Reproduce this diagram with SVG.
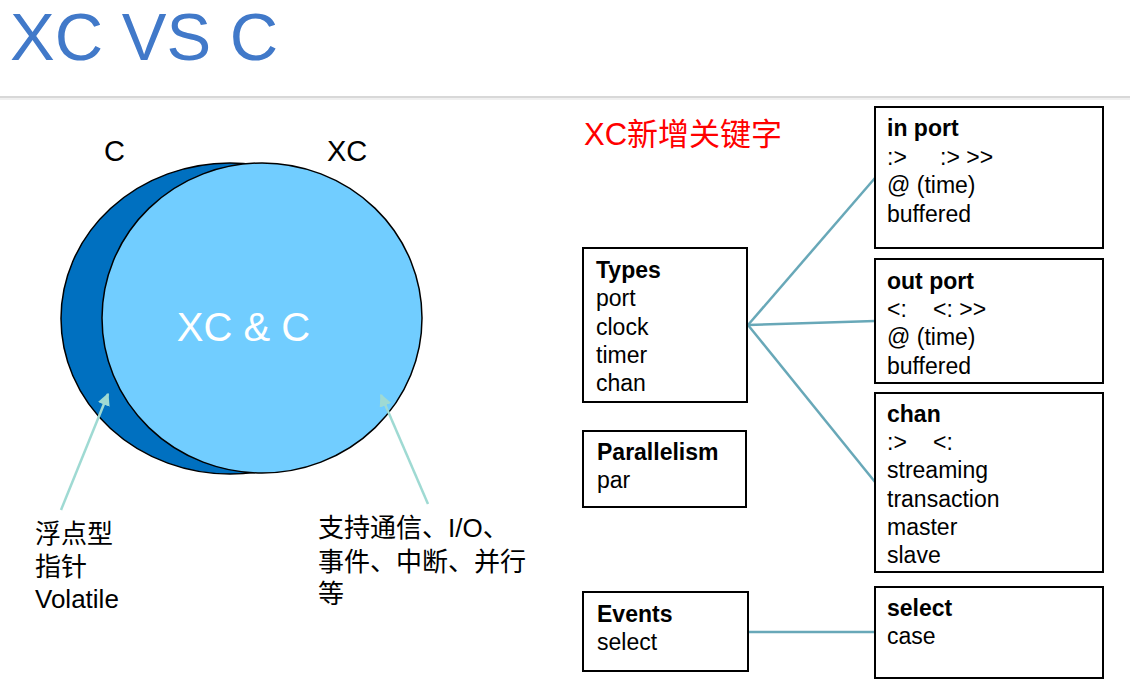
<svg xmlns="http://www.w3.org/2000/svg" width="1130" height="685" viewBox="0 0 1130 685">
<style>
  text { font-family: "Liberation Sans", Arial, "Noto Sans CJK SC", sans-serif; }
  .box { fill: #ffffff; stroke: #000000; stroke-width: 2; }
  .t { font-size: 23px; fill: #000000; }
  .b { font-weight: bold; }
  .cjk { font-family: "Liberation Sans", "Noto Sans CJK SC", sans-serif; font-size: 26px; fill: #000000; }
  .conn { stroke: #68A8B8; stroke-width: 2.5; fill: none; }
  .arr { stroke: #9FDAD3; stroke-width: 2.5; fill: none; }
</style>
<defs>
  <marker id="ah" viewBox="0 0 10 10" refX="9" refY="5" markerWidth="5" markerHeight="5" orient="auto" markerUnits="strokeWidth">
    <path d="M0,0 L10,5 L0,10 z" fill="#9FDAD3"/>
  </marker>
</defs>
<rect x="0" y="0" width="1130" height="685" fill="#ffffff"/>
<g id="title">
  <text x="10" y="60" font-size="67" fill="#4179C9">XC VS C</text>
  <line x1="0" y1="97" x2="1130" y2="97" stroke="#d8d8d8" stroke-width="2"/>
  <line x1="0" y1="99" x2="1130" y2="99" stroke="#f0f0f0" stroke-width="2"/>
</g>
<g id="venn">
  <ellipse cx="230" cy="318.5" rx="169" ry="155.5" fill="#0070C0" stroke="#000" stroke-width="1.5"/>
  <ellipse cx="262" cy="318" rx="160" ry="155" fill="#71CDFF" stroke="#000" stroke-width="1.5"/>
  <text x="243.5" y="341" font-size="40" fill="#ffffff" text-anchor="middle">XC &amp; C</text>
  <text x="104" y="161" font-size="29" fill="#000">C</text>
  <text x="327" y="161" font-size="29" fill="#000">XC</text>
</g>
<g id="notes">
  <line class="arr" x1="61" y1="510" x2="108" y2="394" marker-end="url(#ah)"/>
  <line class="arr" x1="428" y1="504" x2="381" y2="395" marker-end="url(#ah)"/>
  <text class="cjk"><tspan x="35" y="543">浮点型</tspan><tspan x="35" y="576">指针</tspan><tspan x="35" y="608">Volatile</tspan></text>
  <text class="cjk"><tspan x="318" y="537">支持通信、I/O、</tspan><tspan x="318" y="571">事件、中断、并行</tspan><tspan x="318" y="603">等</tspan></text>
</g>
<text x="584" y="145" font-size="31" fill="#FF0000" font-family="Liberation Sans, Noto Sans CJK SC, sans-serif">XC新增关键字</text>
<g id="connectors">
  <line class="conn" x1="748" y1="325" x2="875" y2="178"/>
  <line class="conn" x1="748" y1="325" x2="875" y2="321"/>
  <line class="conn" x1="748" y1="325" x2="875" y2="482"/>
  <line class="conn" x1="749" y1="632" x2="875" y2="632"/>
</g>
<g id="types">
  <rect class="box" x="583" y="248" width="164" height="154"/>
  <text class="t"><tspan class="b" x="596" y="278">Types</tspan><tspan x="596" y="306">port</tspan><tspan x="596" y="334.5">clock</tspan><tspan x="596" y="363">timer</tspan><tspan x="596" y="391">chan</tspan></text>
</g>
<g id="parallelism">
  <rect class="box" x="583" y="431" width="163" height="76"/>
  <text class="t"><tspan class="b" x="597" y="460">Parallelism</tspan><tspan x="597" y="488">par</tspan></text>
</g>
<g id="events">
  <rect class="box" x="583" y="592" width="165" height="79"/>
  <text class="t"><tspan class="b" x="597" y="622">Events</tspan><tspan x="597" y="650">select</tspan></text>
</g>
<g id="inport">
  <rect class="box" x="875" y="107" width="228" height="141"/>
  <text class="t"><tspan class="b" x="887" y="136">in port</tspan><tspan x="887" y="164.5">:&gt;</tspan><tspan x="940" y="164.5">:&gt; &gt;&gt;</tspan><tspan x="887" y="193">@ (time)</tspan><tspan x="887" y="221.5">buffered</tspan></text>
</g>
<g id="outport">
  <rect class="box" x="875" y="259" width="228" height="124"/>
  <text class="t"><tspan class="b" x="887" y="289">out port</tspan><tspan x="887" y="317">&lt;:</tspan><tspan x="933" y="317">&lt;: &gt;&gt;</tspan><tspan x="887" y="345">@ (time)</tspan><tspan x="887" y="373.5">buffered</tspan></text>
</g>
<g id="chan">
  <rect class="box" x="875" y="393" width="228" height="179"/>
  <text class="t"><tspan class="b" x="887" y="422">chan</tspan><tspan x="887" y="450">:&gt;</tspan><tspan x="933" y="450">&lt;:</tspan><tspan x="887" y="478">streaming</tspan><tspan x="887" y="507">transaction</tspan><tspan x="887" y="535">master</tspan><tspan x="887" y="563">slave</tspan></text>
</g>
<g id="select">
  <rect class="box" x="875" y="587" width="228" height="91"/>
  <text class="t"><tspan class="b" x="887" y="616">select</tspan><tspan x="887" y="644">case</tspan></text>
</g>
</svg>
